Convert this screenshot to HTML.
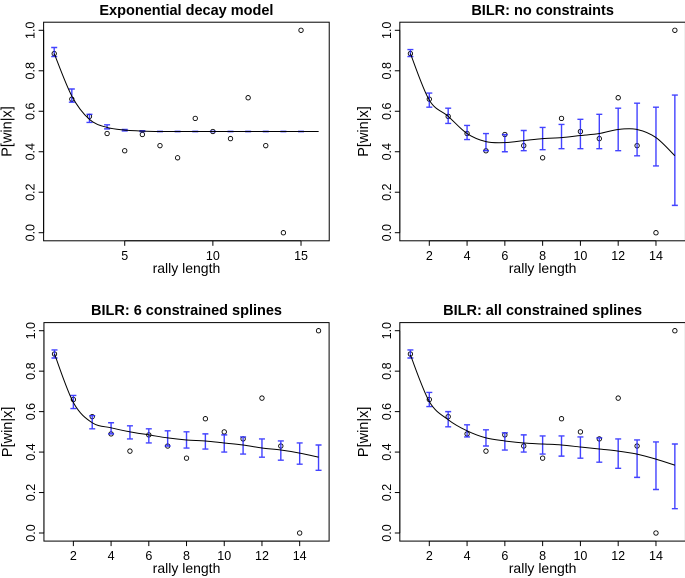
<!DOCTYPE html>
<html><head><meta charset="utf-8"><style>
body{margin:0;background:#fff;}
svg{display:block;font-family:"Liberation Sans",Arial,sans-serif;}
</style></head><body>
<svg id="fig" width="685" height="578" viewBox="0 0 685 578"></svg>
<script>
const xs=[1,2,3,4,5,6,7,8,9,10,11,12,13,14,15];
const observed=[0.885,0.66,0.575,0.49,0.405,0.485,0.43,0.37,0.565,0.50,0.465,0.667,0.43,0.0,1.0];
const titles=["Exponential decay model","BILR: no constraints","BILR: 6 constrained splines","BILR: all constrained splines"];
const expFitX=[1,2,3,4,5,6,7,8,9,10,11,12,13,14,15,16];
const expFit=[0.885,0.675,0.56,0.52,0.507,0.502,0.5,0.5,0.5,0.5,0.5,0.5,0.5,0.5,0.5,0.5];
const expLo=[0.87,0.645,0.545,0.513,0.503,0.5,0.499,0.499,0.499,0.499,0.499,0.499,0.499,0.499,0.499];
const expHi=[0.915,0.71,0.585,0.533,0.51,0.504,0.501,0.501,0.501,0.501,0.501,0.501,0.501,0.501,0.501];
const fit2=[0.885,0.655,0.575,0.49,0.45,0.445,0.455,0.465,0.47,0.48,0.49,0.51,0.51,0.47,0.38];
const lo2=[0.87,0.62,0.54,0.46,0.405,0.40,0.405,0.41,0.415,0.415,0.415,0.405,0.38,0.33,0.135];
const hi2=[0.905,0.69,0.615,0.53,0.49,0.485,0.505,0.52,0.535,0.56,0.585,0.615,0.64,0.62,0.68];
const fit3=[0.885,0.645,0.545,0.52,0.50,0.485,0.47,0.46,0.455,0.445,0.435,0.42,0.41,0.395,0.375];
const lo3=[0.865,0.615,0.515,0.49,0.465,0.445,0.43,0.42,0.415,0.40,0.39,0.375,0.36,0.34,0.31];
const hi3=[0.905,0.68,0.58,0.545,0.53,0.515,0.505,0.50,0.49,0.485,0.475,0.465,0.455,0.445,0.435];
const fit4=[0.88,0.65,0.56,0.505,0.47,0.455,0.445,0.44,0.435,0.425,0.415,0.405,0.39,0.365,0.335];
const lo4=[0.865,0.625,0.525,0.475,0.43,0.41,0.40,0.39,0.38,0.37,0.35,0.32,0.275,0.215,0.12];
const hi4=[0.905,0.695,0.60,0.535,0.51,0.495,0.485,0.48,0.48,0.475,0.47,0.465,0.46,0.45,0.44];
const yTicks=[0,0.2,0.4,0.6,0.8,1.0];
const yTickLabels=["0.0","0.2","0.4","0.6","0.8","1.0"];
const xTicksA=[5,10,15];
const xTicksB=[2,4,6,8,10,12,14];

const NS="http://www.w3.org/2000/svg";
const svg=document.getElementById('fig');
function mk(tag,attrs,parent){const e=document.createElementNS(NS,tag);for(const k in attrs)e.setAttribute(k,attrs[k]);(parent||svg).appendChild(e);return e;}

function catmull(pts){
  let d="M"+pts[0][0]+","+pts[0][1];
  for(let i=0;i<pts.length-1;i++){
    const p0=pts[Math.max(0,i-1)],p1=pts[i],p2=pts[i+1],p3=pts[Math.min(pts.length-1,i+2)];
    const c1=[p1[0]+(p2[0]-p0[0])/6,p1[1]+(p2[1]-p0[1])/6];
    const c2=[p2[0]-(p3[0]-p1[0])/6,p2[1]-(p3[1]-p1[1])/6];
    d+=" C"+c1[0]+","+c1[1]+" "+c2[0]+","+c2[1]+" "+p2[0]+","+p2[1];
  }
  return d;
}

function panel(cfg){
  const g=mk('g',{});
  
  
  const X=v=>cfg.x1px+(v-1)*cfg.ux;
  const Y=v=>cfg.y0px-v*(cfg.y0px-cfg.y1px);
  const xmin=1-0.04*(cfg.xmax-1), xmax=cfg.xmax+0.04*(cfg.xmax-1);
  const L=X(xmin),R=X(xmax),T=Y(1.04),B=Y(-0.04);
  const box=mk('rect',{x:L,y:T,width:R-L,height:B-T,fill:'none',stroke:'#000','stroke-width':1},g);
  
  const t=mk('text',{x:(L+R)/2,y:cfg.titleY,'text-anchor':'middle','font-size':'14.5','font-weight':'bold'},g);
  t.textContent=cfg.title;
  const ya=mk('g',{},g);
  mk('line',{x1:L,x2:L,y1:Y(0),y2:Y(1),stroke:'#000'},ya);
  yTicks.forEach((v,i)=>{
    mk('line',{x1:L-5,x2:L,y1:Y(v),y2:Y(v),stroke:'#000'},ya);
    const tl=mk('text',{x:0,y:0,transform:`translate(${L-9},${Y(v)}) rotate(-90)`,'text-anchor':'middle','font-size':'12.5'},ya);
    tl.textContent=yTickLabels[i];
  });
  const yl=mk('text',{transform:`translate(${L-32},${(T+B)/2}) rotate(-90)`,'text-anchor':'middle','font-size':'14.5'},g);
  yl.textContent='P[win|x]';
  const xa=mk('g',{},g);
  mk('line',{x1:X(cfg.xt[0]),x2:X(cfg.xt[cfg.xt.length-1]),y1:B,y2:B,stroke:'#000'},xa);
  cfg.xt.forEach(v=>{
    mk('line',{x1:X(v),x2:X(v),y1:B,y2:B+5,stroke:'#000'},xa);
    const tl=mk('text',{x:X(v),y:B+19,'text-anchor':'middle','font-size':'12.5'},xa);
    tl.textContent=String(v);
  });
  const xl=mk('text',{x:(L+R)/2,y:B+32,'text-anchor':'middle','font-size':'14'},g);
  xl.textContent='rally length';
  xs.forEach((x,i)=>{
    const c=mk('circle',{cx:X(x),cy:Y(observed[i]),r:2.2,fill:'none',stroke:'#000','stroke-width':0.9},g);
    
  });
  cfg.lo.forEach((lo,i)=>{
    const x=X(xs[i]),hi=cfg.hi[i];
    const eb=mk('path',{d:`M${x},${Y(lo)}V${Y(hi)}M${x-3},${Y(lo)}H${x+3}M${x-3},${Y(hi)}H${x+3}`,stroke:'#2222ff','stroke-width':1.4,fill:'none','stroke-opacity':0.85},g);
    
  });
  const pts=cfg.fx.map((x,i)=>[X(x),Y(cfg.fit[i])]);
  const p=mk('path',{d:catmull(pts),fill:'none',stroke:'#000','stroke-width':1},g);
  
}

panel({name:'panel-exponential',title:titles[0],x1px:54.2,ux:17.63,xmax:16,y0px:232.7,y1px:30.3,titleY:15,xt:xTicksA,fx:expFitX,fit:expFit,lo:expLo,hi:expHi});
panel({name:'panel-no-constraints',title:titles[1],x1px:410.4,ux:18.89,xmax:15,y0px:232.7,y1px:30.3,titleY:15,xt:xTicksB,fx:xs,fit:fit2,lo:lo2,hi:hi2});
panel({name:'panel-6-constrained',title:titles[2],x1px:54.5,ux:18.86,xmax:15,y0px:533,y1px:330.7,titleY:315,xt:xTicksB,fx:xs,fit:fit3,lo:lo3,hi:hi3});
panel({name:'panel-all-constrained',title:titles[3],x1px:410.4,ux:18.89,xmax:15,y0px:533,y1px:330.7,titleY:315,xt:xTicksB,fx:xs,fit:fit4,lo:lo4,hi:hi4});
</script>
</body></html>
